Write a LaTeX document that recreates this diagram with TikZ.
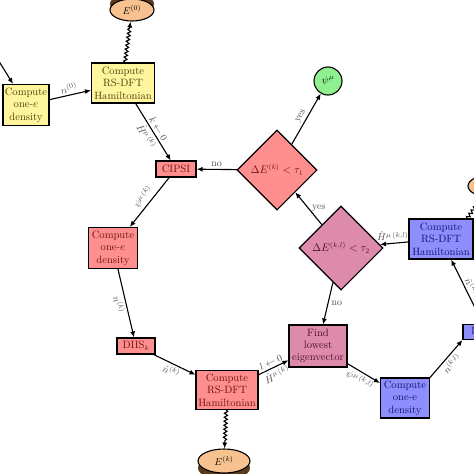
\documentclass[tikz,border=0pt]{standalone}
\usetikzlibrary{arrows.meta,shapes.geometric,decorations.pathmorphing,calc}
\definecolor{yfill}{HTML}{FFF59C}
\definecolor{ytext}{HTML}{4A4210}
\definecolor{rfill}{HTML}{FF8E8E}
\definecolor{rtext}{HTML}{6A1414}
\definecolor{mfill}{HTML}{DE8AAA}
\definecolor{mtext}{HTML}{4A1030}
\definecolor{bfill}{HTML}{8E8EFF}
\definecolor{btext}{HTML}{14146A}
\definecolor{gfill}{HTML}{8EF08E}
\definecolor{ofill}{HTML}{F8C290}
\definecolor{oshade}{HTML}{5A3A1A}
\definecolor{lbl}{HTML}{4A4A4A}
\begin{document}
\begin{tikzpicture}[x=1pt,y=-1pt,
  box/.style={draw=black, line width=1.1pt, align=center, inner sep=1pt, font=\fontsize{10.6}{12.4}\selectfont},
  ybox/.style={box, fill=yfill, text=ytext},
  rbox/.style={box, fill=rfill, text=rtext},
  mbox/.style={box, fill=mfill, text=mtext},
  bbox/.style={box, fill=bfill, text=btext},
  test/.style={diamond, draw=black, line width=1.1pt, inner sep=0pt, aspect=1, font=\fontsize{10.6}{12.4}\selectfont},
  energy/.style={ellipse, draw=black, line width=1.1pt, fill=ofill, inner sep=0pt, minimum width=44pt, minimum height=22pt},
  conn/.style={line width=1.1pt, -{Latex[length=6pt,width=5pt]}},
  wavy/.style={line width=1.1pt, -{Latex[length=6pt,width=5pt]}, decorate, decoration={snake, amplitude=1.6pt, segment length=4pt, post length=6pt}},
  lab/.style={text=lbl, inner sep=2pt}
]
\useasboundingbox (0,0) rectangle (474,474);
\clip (0,0) rectangle (474,474);

% energy shades
\fill[oshade] (132,4) ellipse (22pt and 11pt);
\fill[oshade] (224,468) ellipse (26pt and 12pt);

% nodes
\coordinate (in) at (-8,50);
\node[ybox, minimum width=46pt, minimum height=41pt] (ydens) at (26,105) {Compute\\one-$e$\\density};
\node[ybox, minimum width=63pt, minimum height=40pt] (yham) at (123,83) {Compute\\RS-DFT\\Hamiltonian};
\node[energy] (E0) at (132,10) {$E^{(0)}$};
\node[rbox, minimum width=40pt, minimum height=16pt] (cipsi) at (176,169) {CIPSI};
\node[test, fill=rfill, text=rtext, minimum width=80pt, minimum height=80pt] (d1) at (277,170) {$\Delta E^{(k)} < \tau_1$};
\node[circle, draw=black, line width=1.1pt, fill=gfill, minimum size=28pt, inner sep=0pt] (psi) at (328,81) {$\psi^{\mu}$};
\node[rbox, minimum width=49pt, minimum height=41pt] (rdens) at (113,248) {Compute\\one-$e$\\density};
\node[rbox, minimum width=38pt, minimum height=16pt] (diisk) at (136,346) {DIIS$_k$};
\node[rbox, minimum width=62pt, minimum height=39pt] (rham) at (227,390) {Compute\\RS-DFT\\Hamiltonian};
\node[energy, minimum width=52pt, minimum height=24pt] (Ek) at (224,461) {$E^{(k)}$};
\node[test, fill=mfill, text=mtext, minimum width=84pt, minimum height=84pt] (d2) at (341,248) {$\Delta E^{(k,l)} < \tau_2$};
\node[mbox, minimum width=58pt, minimum height=42pt] (find) at (318,346) {Find\\lowest\\eigenvector};
\node[bbox, minimum width=49pt, minimum height=40pt] (bdens) at (405,398) {Compute\\one-e\\density};
\node[bbox, minimum width=64pt, minimum height=40pt] (bham) at (441,239) {Compute\\RS-DFT\\Hamiltonian};
\node[bbox, minimum width=48pt, minimum height=15pt] (diiskl) at (487,332) {DIIS$_{k,l}$};
\node[energy] (Er) at (490,186) {$E^{(k,l)}$};

% connectors
\draw[conn] (in) -- (ydens);
\draw[conn] (ydens) -- node[lab, above, sloped] {$n^{(0)}$} (yham);
\draw[wavy] (yham.north) ++(2pt,0) coordinate (yhamtop) (yhamtop) -- (E0);
\draw[conn] (yham) -- node[lab, above, sloped] {$k\leftarrow 0$} node[lab, below, sloped] {$\hat{H}^{\mu\,(k)}$} (cipsi);
\draw[conn] (d1) -- node[lab, above] {no} (cipsi);
\draw[conn] (d1) -- node[lab, above, sloped] {yes} (psi);
\draw[conn] (cipsi) -- node[lab, above, sloped] {$\psi^{\mu\,(k)}$} (rdens);
\draw[conn] (rdens) -- node[lab, below, sloped] {$n^{(k)}$} (diisk);
\draw[conn] (diisk) -- node[lab, below, sloped] {$\tilde{n}^{(k)}$} (rham);
\draw[wavy] (rham) -- (Ek);
\draw[conn] (rham) -- node[lab, above, sloped] {$l\leftarrow 0$} node[lab, below, sloped] {$\hat{H}^{\mu\,(k)}$} (find);
\draw[conn] (find) -- node[lab, below, sloped] {$\psi^{\mu\,(k,l)}$} (bdens);
\draw[conn] (bdens.north east) -- node[lab, below, sloped] {$n^{(k,l)}$} (diiskl.south west);
\draw[conn] (diiskl) -- node[lab, above, sloped] {$\tilde{n}^{(k,l)}$} (bham);
\draw[wavy] (bham.north) ++(26pt,0) coordinate (bhamtop) (bhamtop) -- (Er);
\draw[conn] (bham) -- node[lab, above, pos=0.55] {$\hat{H}^{\mu\,(k,l)}$} (d2);
\draw[conn] (d2) -- node[lab, right=1pt] {yes} (d1);
\draw[conn] (d2) -- node[lab, right=1pt] {no} (find);
\end{tikzpicture}
\end{document}
